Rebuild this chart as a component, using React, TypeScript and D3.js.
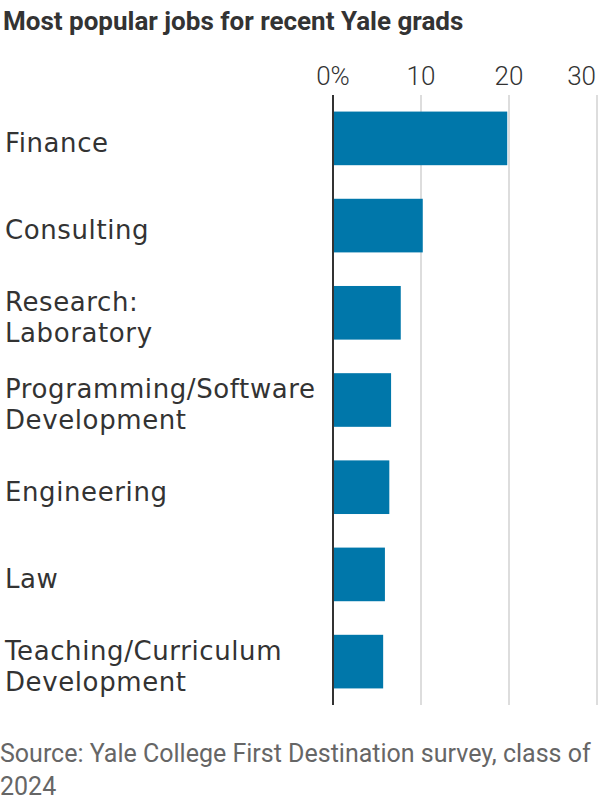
import React, { useRef, useEffect } from "react";
import { select, scaleLinear, scaleBand } from "d3";

// data (share of class of 2024, %)
const categories = [
  "Finance",
  "Consulting",
  "Research:\nLaboratory",
  "Programming/Software\nDevelopment",
  "Engineering",
  "Law",
  "Teaching/Curriculum\nDevelopment",
];
const values = [19.8, 10.2, 7.7, 6.6, 6.4, 5.9, 5.7];
const tickValues = [0, 10, 20, 30];
const tickLabels = ["0%", "10", "20", "30"];

const title = "Most popular jobs for recent Yale grads";
const sourceLines = [
  "Source: Yale College First Destination survey, class of",
  "2024",
];

const App: React.FC = () => {
  const svgRef = useRef<SVGSVGElement>(null);

  useEffect(() => {
    const svg = select(svgRef.current);
    svg.selectAll("*").remove();

    const width = 600;
    const height = 800;
    const top = 95;
    const bottom = 705;

    const x = scaleLinear().domain([0, 30]).range([333, 597]);
    const y = scaleBand<number>()
      .domain(categories.map((_, i) => i))
      .range([top, bottom])
      .paddingInner(0.385)
      .paddingOuter(0.19);

    svg.attr("width", width).attr("height", height);

    // titulo
    svg
      .append("text")
      .attr("x", 3)
      .attr("y", 30)
      .attr("font-family", "Roboto, sans-serif")
      .attr("font-weight", 700)
      .attr("font-size", 26)
      .attr("fill", "#333")
      .text(title);

    // rejilla
    svg
      .append("g")
      .selectAll("line")
      .data(tickValues.filter((t) => t !== 0))
      .join("line")
      .attr("x1", (d) => x(d))
      .attr("x2", (d) => x(d))
      .attr("y1", top)
      .attr("y2", bottom)
      .attr("stroke", "#dddddd")
      .attr("stroke-width", 2);

    // etiquetas del eje (la ultima se alinea a la derecha)
    const last = tickValues.length - 1;
    svg
      .append("g")
      .selectAll("text")
      .data(tickValues)
      .join("text")
      .attr("x", (d, i) => (i === last ? x(d) - 1 : x(d)))
      .attr("y", 85)
      .attr("text-anchor", (_, i) => (i === last ? "end" : "middle"))
      .attr("font-family", "Roboto, sans-serif")
      .attr("font-weight", 300)
      .attr("font-size", 26)
      .attr("fill", "#333")
      .text((_, i) => tickLabels[i]);

    // barras
    svg
      .append("g")
      .selectAll("rect")
      .data(values)
      .join("rect")
      .attr("x", x(0))
      .attr("y", (_, i) => y(i)!)
      .attr("width", (d) => x(d) - x(0))
      .attr("height", y.bandwidth())
      .attr("fill", "#0077aa");

    // linea cero
    svg
      .append("line")
      .attr("x1", x(0))
      .attr("x2", x(0))
      .attr("y1", top)
      .attr("y2", bottom)
      .attr("stroke", "#333")
      .attr("stroke-width", 2);

    // categorias
    const lineH = 31;
    svg
      .append("g")
      .selectAll("text")
      .data(categories)
      .join("text")
      .attr("font-family", "'DejaVu Sans', sans-serif")
      .attr("font-size", 26)
      .attr("letter-spacing", 0.6)
      .attr("fill", "#333")
      .each(function (d, i) {
        const lines = d.split("\n");
        const cy = y(i)! + y.bandwidth() / 2;
        const y0 = cy - ((lines.length - 1) * lineH) / 2 + 13.5;
        select(this)
          .selectAll("tspan")
          .data(lines)
          .join("tspan")
          .attr("x", 5)
          .attr("y", (_, j) => y0 + j * lineH)
          .text((l) => l);
      });

    // fuente
    svg
      .append("text")
      .attr("font-family", "Roboto, sans-serif")
      .attr("font-size", 25)
      .attr("fill", "#666")
      .selectAll("tspan")
      .data(sourceLines)
      .join("tspan")
      .attr("x", 0)
      .attr("y", (_, i) => 762 + i * 33)
      .text((d) => d);
  }, []);

  return (
    <svg
      ref={svgRef}
      style={{ position: "absolute", left: 0, top: 0, background: "#fff" }}
    />
  );
};

export default App;
